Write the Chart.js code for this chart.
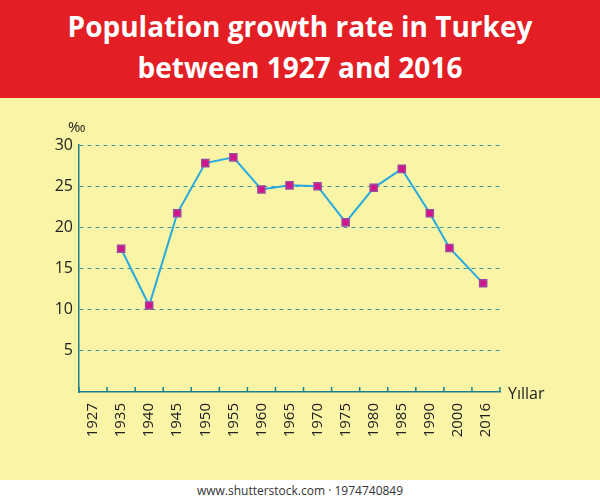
<!DOCTYPE html>
<html>
<head>
<meta charset="utf-8">
<script src="https://cdn.jsdelivr.net/npm/chart.js@4/dist/chart.umd.min.js"></script>
<style>
  body { margin: 0; width: 600px; height: 502px; background: #fff; font-family: "Open Sans", sans-serif; overflow: hidden; position: relative; }
  #head { position: absolute; left: 0; top: 0; width: 600px; height: 98px; background: #e31e24; color: #fff; text-align: center; font-weight: bold; font-size: 28px; line-height: 41px; padding-top: 6px; box-sizing: border-box; }
  #panel { position: absolute; left: 0; top: 98px; width: 600px; height: 382px; background: #faf4a6; }
  #wrap { position: absolute; left: 0; top: 100px; width: 600px; height: 380px; }
  .lbl { position: absolute; color: #222; font-size: 15px; }
  #foot { position: absolute; left: 0; top: 482px; width: 600px; text-align: center; font-size: 12px; color: #333; }
</style>
</head>
<body>
<div id="head">Population growth rate in Turkey<br>between 1927 and 2016</div>
<div id="panel"></div>
<div id="wrap"><canvas id="c"></canvas></div>
<div class="lbl" style="left:68px;top:116px;">‰</div>
<div class="lbl" style="left:508px;top:382px;font-size:16px;">Yıllar</div>
<div id="foot">www.shutterstock.com · 1974740849</div>
<script>
const yearLabels = ['1927','1935','1940','1945','1950','1955','1960','1965','1970','1975','1980','1985','1990','2000','2016'];
const pointPos = [1, 2, 3, 4, 5, 6, 7, 8, 9, 10, 11, 12, 12.7, 13.9];
const rates = [17.4, 10.5, 21.7, 27.8, 28.5, 24.6, 25.1, 25.0, 20.6, 24.8, 27.1, 21.7, 17.5, 13.2];

const tickMarks = {
  id: 'tickMarks',
  afterDraw(chart) {
    const { ctx, scales: { x, y } } = chart;
    ctx.save();
    ctx.strokeStyle = '#1c7f8c';
    ctx.lineWidth = 1.5;
    const y0 = y.getPixelForValue(0);
    for (let i = 0; i <= yearLabels.length; i++) {
      const px = x.getPixelForValue(i - 0.5);
      ctx.beginPath();
      ctx.moveTo(px, y0);
      ctx.lineTo(px, y0 - 5);
      ctx.stroke();
    }
    ctx.restore();
  }
};

new Chart(document.getElementById('c'), {
  type: 'line',
  data: {
    datasets: [{
      data: pointPos.map((p, i) => ({ x: p, y: rates[i] })),
      borderColor: '#27a9e1',
      borderWidth: 2,
      pointStyle: 'rect',
      pointRadius: 5,
      pointBackgroundColor: '#d4148c',
      pointBorderColor: '#9a4a9e',
      pointBorderWidth: 1.5,
      tension: 0
    }]
  },
  options: {
    responsive: true,
    maintainAspectRatio: false,
    animation: false,
    layout: { padding: { top: 45, right: 100, left: 0, bottom: 0 } },
    plugins: { legend: { display: false }, tooltip: { enabled: false } },
    scales: {
      x: {
        type: 'linear',
        min: -0.5,
        max: 14.5,
        afterFit(s) { s.height = 88; },
        afterBuildTicks(s) { s.ticks = yearLabels.map((_, i) => ({ value: i })); },
        grid: { display: false },
        border: { color: '#1c7f8c', width: 1.5 },
        ticks: {
          autoSkip: false,
          maxRotation: 90,
          minRotation: 90,
          color: '#222',
          font: { size: 15, family: 'Open Sans' },
          callback: (v) => yearLabels[v]
        }
      },
      y: {
        min: 0,
        max: 30,
        afterFit(s) { s.width = 79; },
        border: { color: '#1c7f8c', width: 1.5, dash: [4, 4] },
        grid: {
          color: (c) => c.tick.value === 0 ? 'rgba(0,0,0,0)' : '#3a9a9e',
          lineWidth: 1,
          drawTicks: false
        },
        ticks: {
          stepSize: 5,
          padding: 6,
          color: '#222',
          font: { size: 16, family: 'Open Sans' },
          callback: (v) => v === 0 ? '' : v
        }
      }
    }
  },
  plugins: [tickMarks]
});
</script>
</body>
</html>
